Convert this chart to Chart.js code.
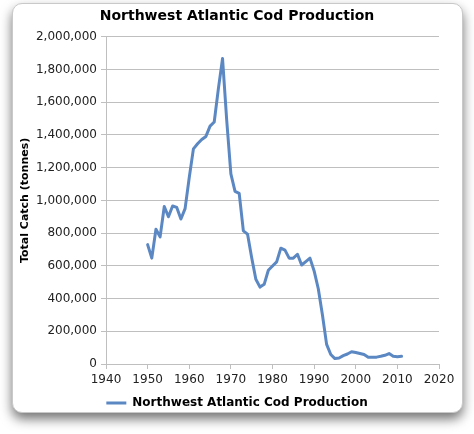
<!doctype html>
<html lang="en">
  <head>
    <meta charset="utf-8">
    <title>Northwest Atlantic Cod Production</title>
    <script src="https://cdn.jsdelivr.net/npm/chart.js@4.4.0/dist/chart.umd.min.js"></script>
    <style>
      body { margin: 0; background: #fff; }
      .wrap { position: relative; width: 474px; height: 434px; }
      .card {
        position: absolute; left: 12px; top: 3px; width: 449px; height: 408px;
        border: 1px solid #c9c9c9; border-radius: 10px; background: #fff;
        box-shadow: 0 6px 12px rgba(0,0,0,0.55);
      }
      #cod { position: absolute; left: 0; top: 0; }
    </style>
  </head>

  <body>
    <div class="wrap">
      <div class="card"></div>
      <canvas id="cod" width="474" height="434"></canvas>
    </div>
  </body>

  <script>
    // values
    var years = [1950,1951,1952,1953,1954,1955,1956,1957,1958,1959,
                 1960,1961,1962,1963,1964,1965,1966,1967,1968,1969,
                 1970,1971,1972,1973,1974,1975,1976,1977,1978,1979,
                 1980,1981,1982,1983,1984,1985,1986,1987,1988,1989,
                 1990,1991,1992,1993,1994,1995,1996,1997,1998,1999,
                 2000,2001,2002,2003,2004,2005,2006,2007,2008,2009,
                 2010,2011];
    var catchTonnes = [730000,647000,824000,777000,963000,900000,966000,957000,886000,950000,
                       1140000,1315000,1346000,1372000,1391000,1454000,1479000,1683000,1867000,1490000,
                       1162000,1055000,1043000,814000,794000,650000,518000,470000,487000,573000,
                       599000,624000,708000,696000,647000,647000,671000,605000,626000,647000,
                       569000,460000,300000,120000,58000,33000,37000,51000,61000,75000,
                       70000,64000,58000,41000,41000,42000,47000,53000,64000,47000,
                       45000,47000];
    var seriesName = "Northwest Atlantic Cod Production";
    var yearTicks = [1940, 2020, 10];
    var catchTicks = [0, 2000000, 200000];

    Chart.defaults.font.family = "'DejaVu Sans', Verdana, sans-serif";
    Chart.defaults.color = "#222";

    var points = [];
    for (var i = 0; i < years.length; i++) {
      points.push({x: years[i], y: catchTonnes[i]});
    }

    var gridGray = "#bfbfbf";

    var ctx = document.getElementById('cod').getContext('2d');
    var codChart = new Chart(ctx, {
      type: 'line',
      data: {
        datasets: [{
          label: seriesName,
          data: points,
          borderColor: '#5b88c2',
          backgroundColor: '#5b88c2',
          borderWidth: 3,
          borderJoinStyle: 'round',
          borderCapStyle: 'round',
          pointRadius: 0,
          tension: 0,
          fill: false
        }]
      },
      options: {
        responsive: false,
        animation: false,
        events: [],
        layout: { padding: { left: 12, right: 12, top: 8, bottom: 15 } },
        plugins: {
          title: {
            display: true,
            text: seriesName,
            color: '#000',
            font: { size: 14, weight: 'bold' },
            padding: { top: 0, bottom: 12 }
          },
          legend: {
            position: 'bottom',
            labels: {
              color: '#000',
              font: { size: 12, weight: 'bold' },
              usePointStyle: true,
              pointStyle: 'line',
              pointStyleWidth: 20,
              padding: 6
            }
          },
          tooltip: { enabled: false }
        },
        scales: {
          x: {
            type: 'linear',
            min: yearTicks[0],
            max: yearTicks[1],
            ticks: {
              stepSize: yearTicks[2],
              font: { size: 12 },
              padding: 4,
              maxRotation: 0,
              callback: function(v) { return String(v); }
            },
            grid: { drawOnChartArea: false, drawTicks: true, tickLength: 5, color: gridGray },
            border: { display: true, color: gridGray },
            afterFit: function(s) { s.height = 27; }
          },
          y: {
            min: catchTicks[0],
            max: catchTicks[1],
            ticks: {
              stepSize: catchTicks[2],
              font: { size: 12 },
              padding: 4,
              callback: function(v) { return v.toLocaleString('en-US'); }
            },
            grid: { color: gridGray, tickLength: 5 },
            border: { display: true, color: gridGray },
            title: {
              display: true,
              text: 'Total Catch (tonnes)',
              color: '#000',
              font: { size: 11, weight: 'bold' },
              padding: { top: 7, bottom: 0 }
            },
            afterFit: function(s) { s.width = 94; }
          },
          y2: {
            type: 'linear',
            position: 'right',
            ticks: { display: false },
            grid: { display: false },
            border: { display: false },
            afterFit: function(s) { s.width = 23; }
          }
        }
      }
    });
  </script>
</html>
